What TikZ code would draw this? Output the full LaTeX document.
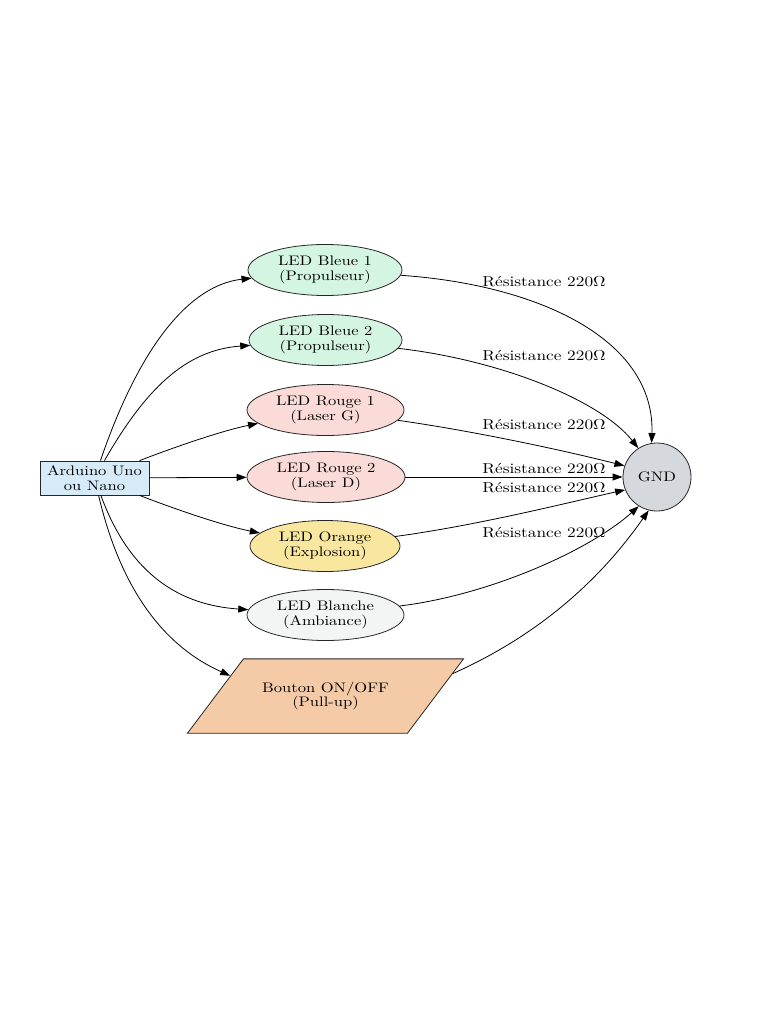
\documentclass[tikz,border=0pt]{standalone}
\usepackage{fontspec}
\setmainfont{lmroman10-regular.otf}[FakeStretch=1.2]
\usetikzlibrary{shapes.geometric,arrows.meta}
\definecolor{ardc}{HTML}{D6EAF8}
\definecolor{bluec}{HTML}{D5F5E3}
\definecolor{redc}{HTML}{FADBD8}
\definecolor{orc}{HTML}{F9E79F}
\definecolor{whc}{HTML}{F3F5F5}
\definecolor{btc}{HTML}{F5CBA7}
\definecolor{gndc}{HTML}{D5D8DC}
\tikzset{
  base/.style={draw=black!85, line width=0.8pt, font=\fontsize{13.8}{14.5}\selectfont, align=center, inner sep=0pt},
  led/.style={base, ellipse, minimum width=155pt, minimum height=51pt},
  conn/.style={-{Triangle[length=10pt,width=7pt]}, line width=0.8pt},
  lbl/.style={font=\fontsize{14.4}{15}\selectfont, inner sep=0pt}
}
\begin{document}
\begin{tikzpicture}[x=1pt,y=-1pt]
\useasboundingbox (0,0) rectangle (768,1024);
\node[base, rectangle, minimum width=109pt, minimum height=34pt, fill=ardc] (ard) at (94.5,478) {Arduino Uno\\ou Nano};
\node[led, fill=bluec, minimum width=154pt] (b1) at (325,270) {LED Bleue 1\\(Propulseur)};
\node[led, fill=bluec, minimum width=153pt] (b2) at (325.5,340) {LED Bleue 2\\(Propulseur)};
\node[led, fill=redc, minimum width=157pt] (r1) at (325.5,410) {LED Rouge 1\\(Laser G)};
\node[led, fill=redc, minimum width=158pt] (r2) at (326,477) {LED Rouge 2\\(Laser D)};
\node[led, fill=orc, minimum width=150pt] (o) at (325,546) {LED Orange\\(Explosion)};
\node[led, fill=whc, minimum width=157pt] (bl) at (325.5,615) {LED Blanche\\(Ambiance)};
\node[base, trapezium, trapezium left angle=53, trapezium right angle=127, trapezium stretches body, inner xsep=0pt, inner ysep=23pt, minimum width=276pt, fill=btc] (bt) at (325.5,696) {Bouton ON/OFF\\(Pull-up)};
\node[base, circle, minimum size=68pt, fill=gndc] (gnd) at (657,477) {GND};

\draw[conn] (ard) .. controls (140,345) and (190,285) .. (b1);
\draw[conn] (ard) .. controls (145,390) and (185,350) .. (b2);
\draw[conn] (ard) .. controls (180,445) and (225,430) .. (r1);
\draw[conn] (ard) -- (r2);
\draw[conn] (ard) .. controls (180,511) and (225,526) .. (o);
\draw[conn] (ard) .. controls (130,575) and (180,605) .. (bl);
\draw[conn] (ard) .. controls (122,595) and (168,648) .. (bt.168);

\draw[conn] (b1) .. controls (540,285) and (655,340) .. (gnd.99);
\draw[conn] (b2) .. controls (500,360) and (600,400) .. (gnd.123);
\draw[conn] (r1) .. controls (480,432) and (570,452) .. (gnd.161);
\draw[conn] (r2) -- (gnd);
\draw[conn] (o) .. controls (480,525) and (570,502) .. (gnd.202);
\draw[conn] (bl) .. controls (490,595) and (590,550) .. (gnd.238);
\draw[conn] (bt.10) .. controls (539,635) and (600,580) .. (gnd.256);

\node[lbl] (l1) at (544,282) {Résistance 220Ω};
\node[lbl] (l2) at (544,356) {Résistance 220Ω};
\node[lbl] (l3) at (544,425) {Résistance 220Ω};
\node[lbl] (l4) at (544,469) {Résistance 220Ω};
\node[lbl] (l5) at (544,488) {Résistance 220Ω};
\node[lbl] (l6) at (544,533) {Résistance 220Ω};
\end{tikzpicture}
\end{document}
